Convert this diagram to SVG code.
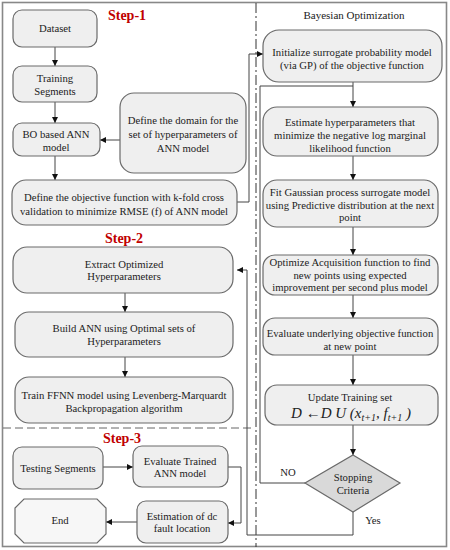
<svg xmlns="http://www.w3.org/2000/svg" width="450" height="550" viewBox="0 0 450 550">
<defs>
<marker id="ah" viewBox="0 0 10 10" refX="10" refY="5" markerWidth="6" markerHeight="6" orient="auto" markerUnits="userSpaceOnUse">
<path d="M0,0 L10,5 L0,10 z" fill="#111"/>
</marker>
<style>
.box{fill:#efefef;stroke:#6a6a6a;stroke-width:1.2}
.end{fill:#f7f7f7;stroke:#6a6a6a;stroke-width:1.2}
.dia{fill:#d9d9d9;stroke:#6a6a6a;stroke-width:1.2}
.t{font-family:"Liberation Serif","Times New Roman",serif;font-size:10.7px;fill:#222;text-anchor:middle}
.step{font-family:"Liberation Serif","Times New Roman",serif;font-size:14px;font-weight:bold;fill:#c00000;text-anchor:middle}
.c{fill:none;stroke:#444;stroke-width:1}
.ca{fill:none;stroke:#444;stroke-width:1;marker-end:url(#ah)}
.f{font-family:"Liberation Serif","Times New Roman",serif;font-size:15px;font-style:italic;fill:#222;text-anchor:middle}
</style>
</defs>
<rect x="2.5" y="2.5" width="444" height="544" fill="#fff" stroke="#888" stroke-width="1.6"/>
<line x1="256" y1="3" x2="256" y2="547" stroke="#333" stroke-width="1" stroke-dasharray="10,3,2,3"/>
<line x1="3" y1="428" x2="255" y2="428" stroke="#666" stroke-width="1" stroke-dasharray="8,4"/>

<text class="step" x="127" y="20">Step-1</text>
<text class="step" x="124" y="243">Step-2</text>
<text class="step" x="122" y="443">Step-3</text>
<text class="t" x="354" y="19" style="font-size:11px">Bayesian Optimization</text>

<g id="connectors">
<line class="ca" x1="55" y1="47" x2="55" y2="66"/>
<line class="ca" x1="55" y1="102" x2="55" y2="123"/>
<line class="ca" x1="120" y1="140" x2="100" y2="140"/>
<line class="ca" x1="55" y1="156" x2="55" y2="180"/>
<path class="ca" d="M237,202 H249 V54 H263"/>
<line class="ca" x1="125" y1="293" x2="125" y2="312"/>
<line class="ca" x1="125" y1="357" x2="125" y2="377"/>
<line class="ca" x1="103" y1="467" x2="133" y2="467"/>
<path class="ca" d="M228,467 H241 V523 H228"/>
<line class="ca" x1="137" y1="522" x2="106" y2="522"/>
<line class="ca" x1="353" y1="82" x2="353" y2="107"/>
<line class="ca" x1="353" y1="156" x2="353" y2="180"/>
<line class="ca" x1="353" y1="227" x2="353" y2="255"/>
<line class="ca" x1="353" y1="295" x2="353" y2="318"/>
<line class="ca" x1="353" y1="355" x2="353" y2="385"/>
<line class="ca" x1="353" y1="425" x2="353" y2="455"/>
<path class="c" d="M305,483 H260 V86 H353"/>
<path class="ca" d="M353,512 V535 H247 V270 H237"/>
<text class="t" x="288" y="476">NO</text>
<text class="t" x="373" y="524">Yes</text>
</g>

<g id="dataset"><rect class="box" x="13" y="10" width="84" height="37" rx="9"/><text class="t" x="55" y="32">Dataset</text></g>
<g id="training"><rect class="box" x="13" y="66" width="84" height="36" rx="9"/><text class="t" x="55" y="82">Training</text><text class="t" x="55" y="95">Segments</text></g>
<g id="bo"><rect class="box" x="13" y="123" width="87" height="33" rx="9"/><text class="t" x="56" y="138">BO based ANN</text><text class="t" x="56" y="151">model</text></g>
<g id="domain"><rect class="box" x="120" y="93" width="126" height="80" rx="14"/><text class="t" x="183" y="124">Define the domain for the</text><text class="t" x="183" y="138">set of hyperparameters of</text><text class="t" x="183" y="152">ANN model</text></g>
<g id="objective"><rect class="box" x="12" y="180" width="225" height="45" rx="14"/><text class="t" x="124" y="201">Define the objective function with k-fold cross</text><text class="t" x="124" y="215">validation to minimize RMSE (f) of ANN model</text></g>

<g id="extract"><rect class="box" x="13" y="247" width="220" height="46" rx="14"/><text class="t" x="124" y="268">Extract Optimized</text><text class="t" x="124" y="280">Hyperparameters</text></g>
<g id="build"><rect class="box" x="15" y="312" width="218" height="45" rx="14"/><text class="t" x="124" y="332">Build ANN using Optimal sets of</text><text class="t" x="124" y="345">Hyperparameters</text></g>
<g id="train"><rect class="box" x="15" y="377" width="218" height="46" rx="14"/><text class="t" x="124" y="399">Train FFNN model using Levenberg-Marquardt</text><text class="t" x="124" y="412">Backpropagation algorithm</text></g>

<g id="testing"><rect class="box" x="13" y="447" width="90" height="42" rx="9"/><text class="t" x="58" y="472">Testing Segments</text></g>
<g id="evaluate-ann"><rect class="box" x="133" y="446" width="95" height="41" rx="9"/><text class="t" x="180" y="465">Evaluate Trained</text><text class="t" x="180" y="477">ANN model</text></g>
<g id="estimation"><rect class="box" x="137" y="501" width="91" height="42" rx="9"/><text class="t" x="182" y="520">Estimation of dc</text><text class="t" x="182" y="532">fault location</text></g>
<g id="end"><path class="end" d="M24,499 H97 L106,508 V534 L97,543 H24 L15,534 V508 Z"/><text class="t" x="60" y="524">End</text></g>

<g id="initialize"><rect class="box" x="263" y="30" width="179" height="52" rx="16"/><text class="t" x="352" y="56">Initialize surrogate probability model</text><text class="t" x="352" y="69">(via GP) of the objective function</text></g>
<g id="estimate"><rect class="box" x="263" y="107" width="175" height="49" rx="14"/><text class="t" x="350" y="126">Estimate hyperparameters that</text><text class="t" x="350" y="139">minimize the negative log marginal</text><text class="t" x="350" y="152">likelihood function</text></g>
<g id="fit"><rect class="box" x="263" y="180" width="175" height="47" rx="14"/><text class="t" x="350" y="196">Fit Gaussian process surrogate model</text><text class="t" x="350" y="208.5">using Predictive distribution at the next</text><text class="t" x="350" y="221">point</text></g>
<g id="optimize"><rect class="box" x="263" y="255" width="175" height="40" rx="12"/><text class="t" x="350" y="266">Optimize Acquisition function to find</text><text class="t" x="350" y="278.5">new points using expected</text><text class="t" x="350" y="291">improvement per second plus model</text></g>
<g id="evaluate-obj"><rect class="box" x="263" y="318" width="175" height="37" rx="12"/><text class="t" x="350" y="337">Evaluate underlying objective function</text><text class="t" x="350" y="350">at new point</text></g>
<g id="update"><rect class="box" x="265" y="385" width="173" height="40" rx="12"/><text class="t" x="350" y="401">Update Training set</text><text class="f" x="351" y="418">D ←D U (x<tspan font-size="10" dy="3">t+1</tspan><tspan dy="-3">, f</tspan><tspan font-size="10" dy="3">t+1</tspan><tspan dy="-3">  )</tspan></text></g>
<g id="stopping"><path class="dia" d="M353,455 L400,483 L353,512 L305,483 Z"/><text class="t" x="353" y="481">Stopping</text><text class="t" x="353" y="494">Criteria</text></g>
</svg>
